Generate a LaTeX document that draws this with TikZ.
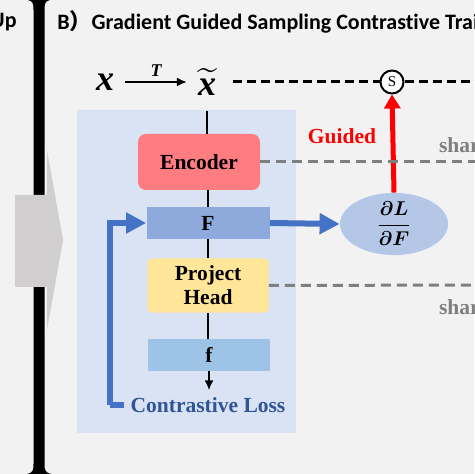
\documentclass[tikz,border=0pt]{standalone}
\usepackage{amsmath,amssymb}
\usepackage{fontspec}
\setmainfont{Liberation Serif}
\newfontfamily\titlefont[Ligatures=NoCommon]{Carlito}
\newfontfamily\cjkfont{Noto Sans CJK SC}
\usetikzlibrary{arrows.meta, positioning, calc, shapes.geometric}
\definecolor{bggray}{HTML}{F2F2F2}
\definecolor{panelblue}{HTML}{DAE3F3}
\definecolor{encred}{HTML}{FF7C80}
\definecolor{featblue}{HTML}{8EA9DB}
\definecolor{headyellow}{HTML}{FFE699}
\definecolor{outblue}{HTML}{9DC3E6}
\definecolor{ellblue}{HTML}{B4C7E7}
\definecolor{lossblue}{HTML}{2F5597}
\definecolor{flowblue}{HTML}{4472C4}
\definecolor{guidered}{HTML}{FF0000}
\definecolor{sharegray}{HTML}{7F7F7F}
\definecolor{arrowgray}{HTML}{D0CECE}
\tikzset{
  >=Latex,
  block/.style={
    fill=#1, draw=none, align=center, inner sep=0pt,
    minimum width=61pt, minimum height=16pt,
    font=\fontsize{10.75}{12}\selectfont\bfseries
  },
  block/.default=featblue,
  lab/.style={font=\fontsize{10.75}{12}\selectfont\bfseries, text=#1},
  head/.style={font=\titlefont\fontsize{11}{13}\selectfont\bfseries, inner sep=0pt},
  spine/.style={line width=1.2pt, draw=black},
  flowline/.style={line width=3pt, draw=flowblue, -{Triangle[length=10pt,width=10pt]}},
  guideline/.style={line width=2.5pt, draw=guidered, -{Triangle[length=7pt,width=8pt]}},
  sharedash/.style={line width=1.5pt, draw=sharegray, dash pattern=on 5pt off 3pt},
  topdash/.style={line width=1.5pt, draw=black, dash pattern=on 4.5pt off 2.5pt}
}
\begin{document}
\begin{tikzpicture}[x=0.5pt, y=-0.5pt]
  \useasboundingbox (0,0) rectangle (474,474);
  \fill[bggray] (0,0) rectangle (474,474);
  % left separator and step arrow
  \fill[black] (28,0) .. controls (33,1) and (33.5,4) .. (33.5,10) -- (33.5,464)
    .. controls (33.5,470) and (33,473) .. (27,474) -- (52,474)
    .. controls (45,473) and (44.5,470) .. (44.5,464) -- (44.5,10)
    .. controls (44.5,4) and (45,1) .. (50,0) -- cycle;
  \fill[arrowgray] (15,195) -- (47,195) -- (47,150) -- (63,240) -- (47,330)
    -- (47,287) -- (15,287) -- cycle;
  \node[head, anchor=east] (prev) at (17,22) {Up};
  \node[head, anchor=west] (title) at (57,22)
    {B{\cjkfont）}Gradient Guided Sampling Contrastive Training};
  % panel
  \fill[panelblue] (77,110) rectangle (296,433);
  % input row
  \node[font=\fontsize{18}{20}\selectfont\bfseries\itshape] (xin) at (105,82) {x};
  \node[font=\fontsize{18}{20}\selectfont] (xt) at (207,82)
    {$\widetilde{\text{\bfseries\itshape x}}$};
  \draw[line width=1pt, -{Latex[length=5pt,width=4.5pt]}, shorten <=2pt, shorten >=2pt]
    (xin) -- node[above=-1pt, font=\fontsize{9}{10}\selectfont\bfseries\itshape] (tlab) {T} (xt);
  \node[circle, draw=black, line width=1pt, minimum size=11.5pt, inner sep=0pt,
    fill=white, font=\fontsize{7.5}{8}\selectfont] (samp) at (392,82) {S};
  \coordinate (topend) at (480,82);
  \draw[topdash, shorten <=5pt] (xt.east) -- (samp.west);
  \draw[topdash] (samp.east) -- (topend);
  % encoder chain
  \node[block=encred, rounded corners=4pt, minimum height=28pt] (enc) at (199,162) {Encoder};
  \node[block=featblue, minimum width=61.5pt] (feat) at (208,223) {F};
  \node[block=headyellow, rounded corners=2pt, minimum width=60.5pt, minimum height=27pt]
    (proj) at (208,285.5) {Project\\Head};
  \node[block=outblue] (outf) at (209,355) {f};
  \node[lab=lossblue] (loss) at (208,405) {Contrastive Loss};
  \draw[spine, shorten <=4pt] (xt.south) -- (xt.south |- enc.north);
  \draw[spine] (enc.south -| feat) -- (feat.north);
  \draw[spine] (feat.south) -- (proj.north);
  \draw[spine] (proj.south) -- (proj.south |- outf.north);
  \draw[spine, -{Latex[length=5pt,width=4.5pt]}] (outf.south) -- (outf.south |- loss.north);
  \draw[flowline, -] (loss.west) -- ++(-14,0) coordinate (lossturn);
  \draw[flowline] (lossturn) |- (feat.west);
  % gradient branch
  \node[ellipse, fill=ellblue, minimum width=54pt, minimum height=30pt, inner sep=0pt,
    font=\fontsize{10}{11}\selectfont\boldmath] (grad) at (394,224)
    {$\dfrac{\partial L}{\partial F}$};
  \draw[flowline] (feat.east) -- (grad.west);
  \draw[guideline] (grad.north) -- (samp.south);
  \node[lab=guidered] (guided) at (342,136) {Guided};
  % shared weights
  \coordinate (encend) at (480,162);
  \coordinate (projend) at (480,285);
  \draw[sharedash] (enc.east) -- (encend);
  \draw[sharedash] (proj.east) -- (projend);
  \node[lab=sharegray, anchor=west] (share1) at (432,145) {shared};
  \node[lab=sharegray, anchor=west] (share2) at (432,307) {shared};
\end{tikzpicture}
\end{document}
